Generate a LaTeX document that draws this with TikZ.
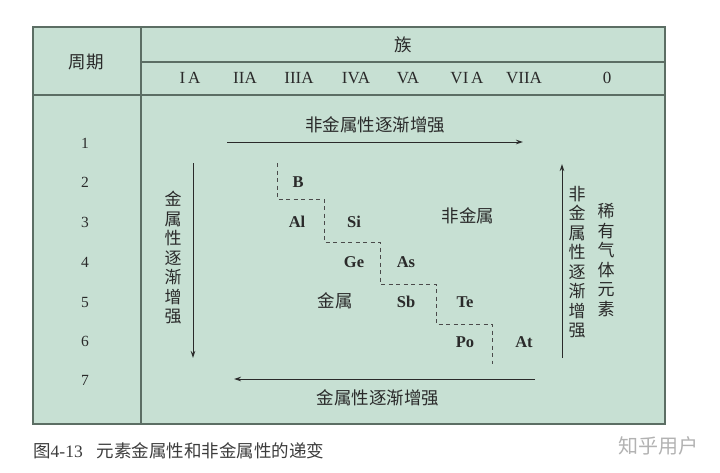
\documentclass[tikz,border=0pt]{standalone}
\usepackage{fontspec}
\setmainfont{Liberation Serif}
\newfontfamily\cjk{Noto Sans CJK SC}
\usetikzlibrary{arrows, arrows.meta}
\usetikzlibrary{calc}

\definecolor{tablegreen}{RGB}{199,224,211}
\definecolor{rulegray}{RGB}{92,110,100}
\definecolor{inkgray}{RGB}{42,42,42}
\definecolor{capgray}{RGB}{60,60,60}

\tikzset{
  hanzi/.style={font=\cjk\fontsize{17.5}{17.5}\selectfont, text=inkgray, inner sep=0pt},
  vhanzi/.style={font=\cjk\fontsize{17}{19.5}\selectfont, text=inkgray, align=center, inner sep=0pt},
  numeral/.style={font=\fontsize{15.5}{15.5}\selectfont, text=inkgray, inner sep=0pt},
  groupno/.style={font=\fontsize{17}{17}\selectfont, text=inkgray, inner sep=0pt},
  elem/.style={font=\bfseries\fontsize{16.5}{16.5}\selectfont, text=inkgray, inner sep=0pt},
  trend/.style={draw=inkgray, line width=1pt, -{Stealth[length=7pt, width=4.5pt]}},
  rule/.style={draw=rulegray, line width=1.2pt},
  stairs/.style={draw=inkgray!85, line width=1pt, dash pattern=on 4pt off 3.5pt},
}

\begin{document}
\begin{tikzpicture}[x=1pt, y=-1pt]
  \useasboundingbox (0,0) rectangle (720,472);

  % table frame
  \filldraw[fill=tablegreen, draw=rulegray, line width=1.4pt] (33,27) rectangle (665,424);
  \draw[rule] (141,27) -- (141,424);
  \draw[rule] (141,62) -- (665,62);
  \draw[rule] (33,95) -- (665,95);

  % header
  \node[hanzi] (period) at (86,62) {周期};
  \node[hanzi] (group) at (403,45) {族};
  \node[groupno] (g1) at (190,78) {I\,A};
  \node[groupno] (g2) at (245,78) {IIA};
  \node[groupno] (g3) at (299,78) {IIIA};
  \node[groupno] (g4) at (356,78) {IVA};
  \node[groupno] (g5) at (408,78) {VA};
  \node[groupno] (g6) at (467,78) {VI\,A};
  \node[groupno] (g7) at (524,78) {VIIA};
  \node[groupno] (g0) at (607,78) {0};

  % periods
  \foreach \p/\y in {1/143, 2/182, 3/222, 4/262, 5/302, 6/341, 7/380}
    \node[numeral] (p\p) at (85,\y) {\p};

  % elements
  \node[elem] (B) at (298,182) {B};
  \node[elem] (Al) at (297,222) {Al};
  \node[elem] (Si) at (354,222) {Si};
  \node[elem] (Ge) at (354,262) {Ge};
  \node[elem] (As) at (406,262) {As};
  \node[elem] (Sb) at (406,302) {Sb};
  \node[elem] (Te) at (465,302) {Te};
  \node[elem] (Po) at (465,342) {Po};
  \node[elem] (At) at (524,342) {At};
  \node[hanzi] (nonmetal) at (468,216) {非金属};
  \node[hanzi] (metal) at (335,301) {金属};

  % metal / nonmetal border
  \draw[stairs] (277,163) -- (277,199) -- (324,199) -- (324,242) -- (380,242)
    -- (380,284) -- (436,284) -- (436,324) -- (492,324) -- (492,364);

  % trends
  \coordinate (topL) at (227,142);
  \coordinate (topR) at (523,142);
  \draw[trend] (topL) -- (topR);
  \node[hanzi] (topT) at (375,125) {非金属性逐渐增强};

  \coordinate (leftT) at (193,163);
  \coordinate (leftB) at (193,358);
  \draw[trend] (leftT) -- (leftB);
  \node[vhanzi] (leftV) at (173,258) {金\\属\\性\\逐\\渐\\增\\强};

  \coordinate (rightB) at (562,358);
  \coordinate (rightT) at (562,164);
  \draw[trend] (rightB) -- (rightT);
  \node[vhanzi] (rightV) at (577,262) {非\\金\\属\\性\\逐\\渐\\增\\强};
  \node[vhanzi] (noble) at (606,260) {稀\\有\\气\\体\\元\\素};

  \coordinate (botR) at (535,379);
  \coordinate (botL) at (234,379);
  \draw[trend] (botR) -- (botL);
  \node[hanzi] (botT) at (378,398) {金属性逐渐增强};

  % caption
  \node[anchor=west, inner sep=0pt, text=capgray, font=\fontsize{17.5}{17.5}\selectfont] (caption) at (33,451)
    {{\cjk 图}4-13\hspace{14pt}{\cjk 元素金属性和非金属性的递变}};
  \node[anchor=east, inner sep=0pt, text=black!30, font=\cjk\fontsize{20}{20}\selectfont] (mark) at (699,446) {知乎用户};
\end{tikzpicture}
\end{document}
